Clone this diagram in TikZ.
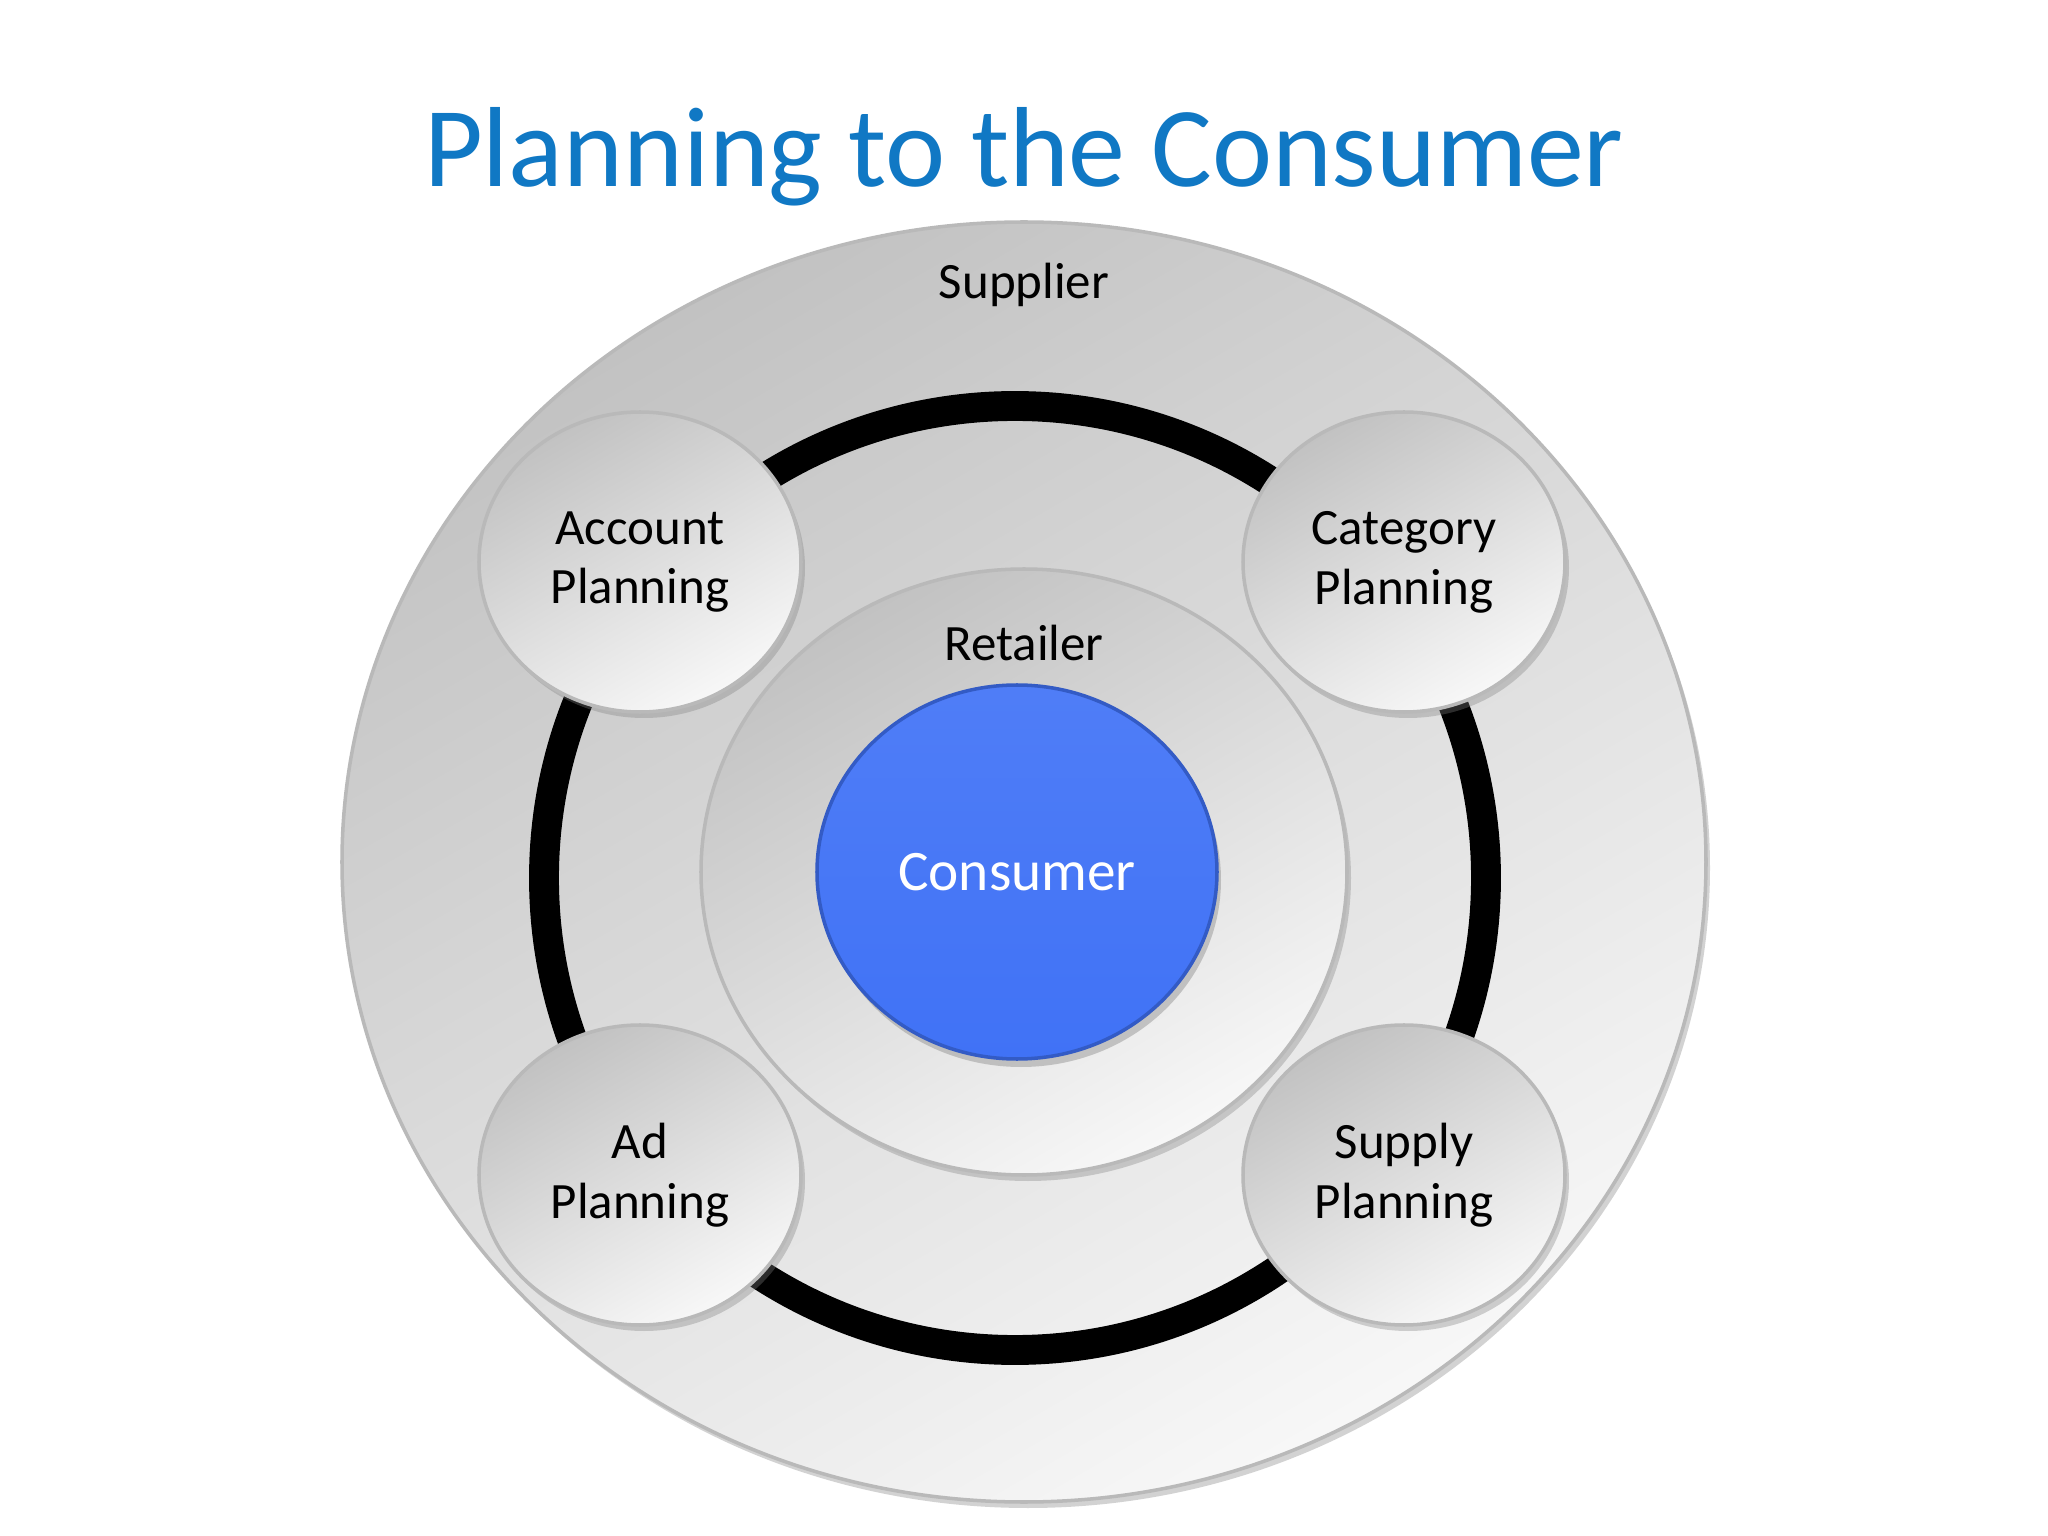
\documentclass[tikz,border=0pt]{standalone}
\usepackage{fontspec}
\setmainfont{Carlito}
\usetikzlibrary{shapes.geometric,shadows}
\definecolor{titleblue}{RGB}{16,120,196}
\definecolor{consblue}{RGB}{64,114,246}
\tikzset{
  disc/.style={ellipse,inner sep=0pt,draw=gray!55,line width=1pt,shading=axis,
    top color=gray!48,bottom color=gray!6,shading angle=30,
    drop shadow={shadow xshift=0.4mm,shadow yshift=-0.6mm,opacity=0.35}},
  lbl/.style={font=\fontsize{14.5}{17}\selectfont,text=black,align=center},
}
\begin{document}
\begin{tikzpicture}
\useasboundingbox[fill=white] (0,0) rectangle (20.48,-15.36);
\node[font=\fontsize{32.4}{38}\selectfont,text=titleblue] (title) at (10.24,-1.57) {Planning to the Consumer};
\node[disc,minimum width=13.64cm,minimum height=12.8cm] (supplier) at (10.24,-8.62) {};
\node[lbl] (suptext) at (10.24,-2.85) {Supplier};
\draw[line width=8.5pt,black] (10.15,-8.78) ellipse [x radius=4.71cm,y radius=4.72cm];
\node[disc,minimum width=6.46cm,minimum height=6.06cm] (retailer) at (10.24,-8.72) {};
\node[lbl] (rettext) at (10.24,-6.43) {Retailer};
\node[ellipse,inner sep=0pt,minimum width=4cm,minimum height=3.74cm,draw=consblue!80!black,line width=1pt,
  shading=axis,top color=consblue!92!white,bottom color=consblue,
  drop shadow={shadow xshift=0.4mm,shadow yshift=-0.8mm,opacity=0.4},
  lbl,font=\fontsize{16.3}{19}\selectfont,text=white] (consumer) at (10.17,-8.72) {Consumer};
\foreach \n/\x/\y/\t in {acc/6.40/-5.62/{Account\\Planning},cat/14.04/-5.62/{Category\\Planning},
  ad/6.40/-11.75/{Ad\\Planning},sup/14.04/-11.75/{Supply\\Planning}}
  \node[disc,minimum width=3.22cm,minimum height=3.0cm,lbl] (\n) at (\x,\y) {\t};
\end{tikzpicture}
\end{document}
